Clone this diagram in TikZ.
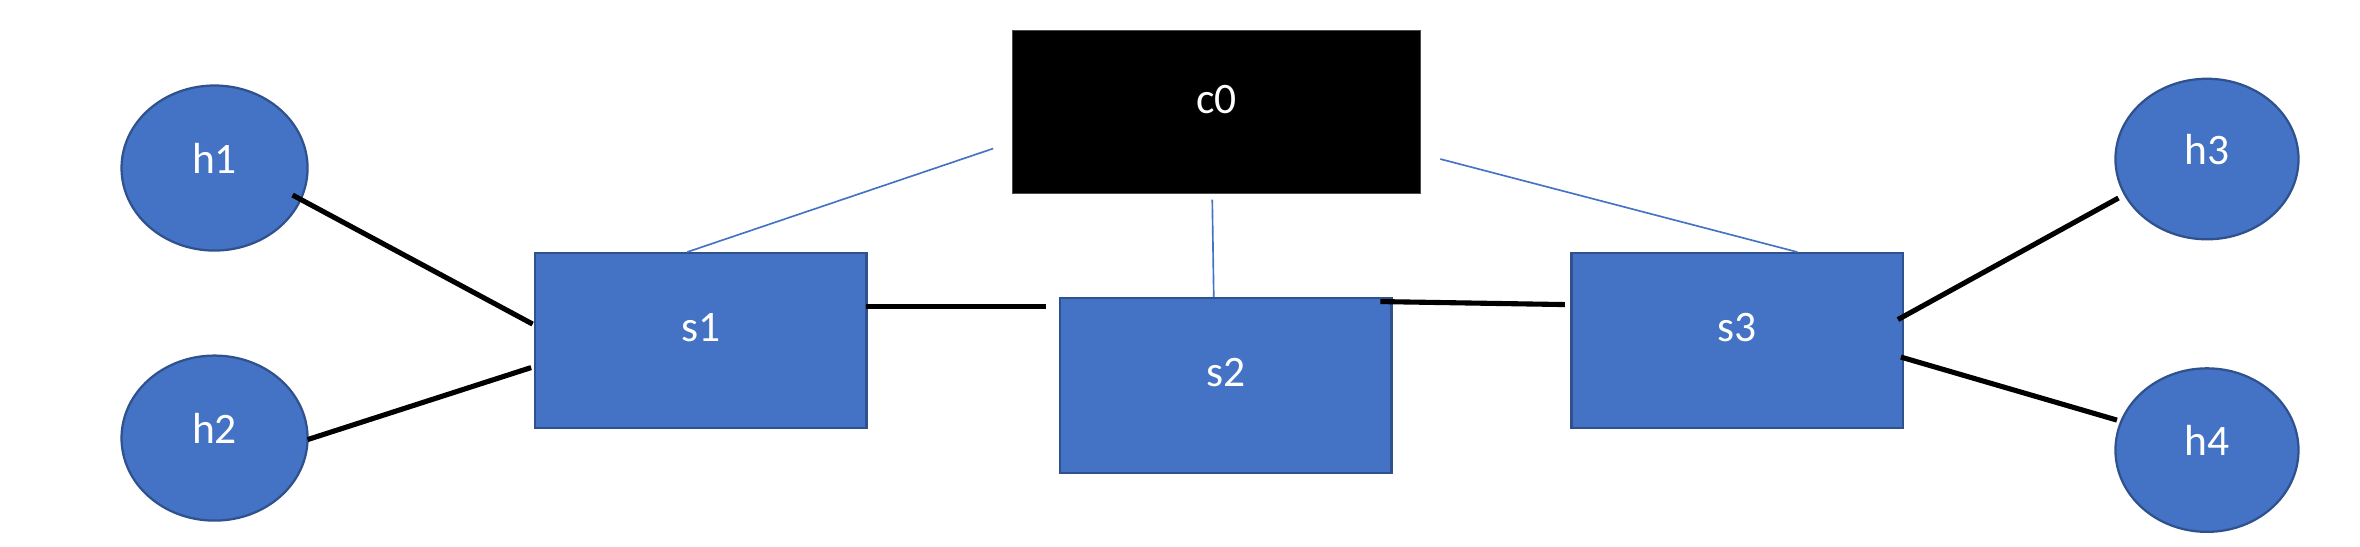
\documentclass[tikz,border=0pt]{standalone}
\usepackage{fontspec}
\setmainfont{Carlito}
\usetikzlibrary{shapes.geometric}
\definecolor{ofill}{HTML}{4472C4}
\definecolor{oline}{HTML}{2F528F}
\tikzset{
  host/.style={ellipse, fill=ofill, draw=oline, line width=1.5pt, inner sep=0pt,
    minimum width=124pt, minimum height=110pt, text=white, font=\fontsize{29}{31}\selectfont,
    text height=19pt, text depth=12pt},
  switch/.style={rectangle, fill=ofill, draw=oline, line width=1.5pt, inner sep=0pt,
    minimum width=221pt, minimum height=117pt, text=white, font=\fontsize{29}{31}\selectfont,
    text height=19pt, text depth=18pt},
  ctrl/.style={rectangle, fill=black, draw=black!70, line width=0.6pt, inner sep=0pt,
    minimum width=272pt, minimum height=109pt, text=white, font=\fontsize{29}{31}\selectfont,
    text height=19pt, text depth=17pt},
  datalink/.style={draw=black, line width=3.4pt},
  ctrllink/.style={draw=ofill, line width=1.1pt}
}
\begin{document}
\begin{tikzpicture}[x=1pt,y=-1pt]
\fill[white] (0,0) rectangle (1573,364);
\useasboundingbox (0,0) rectangle (1573,364);
\node[host] (h1) at (143,112) {h1};
\node[host] (h2) at (143,292) {h2};
\node[host, minimum width=122pt, minimum height=107pt] (h3) at (1471,106) {h3};
\node[host, minimum width=122pt, minimum height=109pt] (h4) at (1471,300) {h4};
\node[ctrl] (c0) at (811,74.5) {c0};
\node[switch] (s1) at (467,227) {s1};
\node[switch] (s2) at (817,257) {s2};
\node[switch] (s3) at (1158,227) {s3};
% connector end points (the links stop short of the shapes)
\coordinate (h1e) at (195,130);
\coordinate (s1a) at (355,216);
\coordinate (h2e) at (205,293);
\coordinate (s1b) at (354,245);
\coordinate (s1c) at (577,204);
\coordinate (s2a) at (697,204);
\coordinate (s2b) at (920,201);
\coordinate (s3a) at (1043,203);
\coordinate (s3b) at (1265,213);
\coordinate (h3e) at (1412,132);
\coordinate (s3c) at (1267,238);
\coordinate (h4e) at (1411,280);
\coordinate (c0a) at (662,99);
\coordinate (s1t) at (458,168);
\coordinate (c0b) at (808,133);
\coordinate (s2t) at (809,198);
\coordinate (c0c) at (960,106);
\coordinate (s3t) at (1198,168);
\draw[datalink] (h1e) -- (s1a);
\draw[datalink] (h2e) -- (s1b);
\draw[datalink] (s1c) -- (s2a);
\draw[datalink] (s2b) -- (s3a);
\draw[datalink] (s3b) -- (h3e);
\draw[datalink] (s3c) -- (h4e);
\draw[ctrllink] (c0a) -- (s1t);
\draw[ctrllink] (c0b) -- (s2t);
\draw[ctrllink] (c0c) -- (s3t);
\end{tikzpicture}
\end{document}
